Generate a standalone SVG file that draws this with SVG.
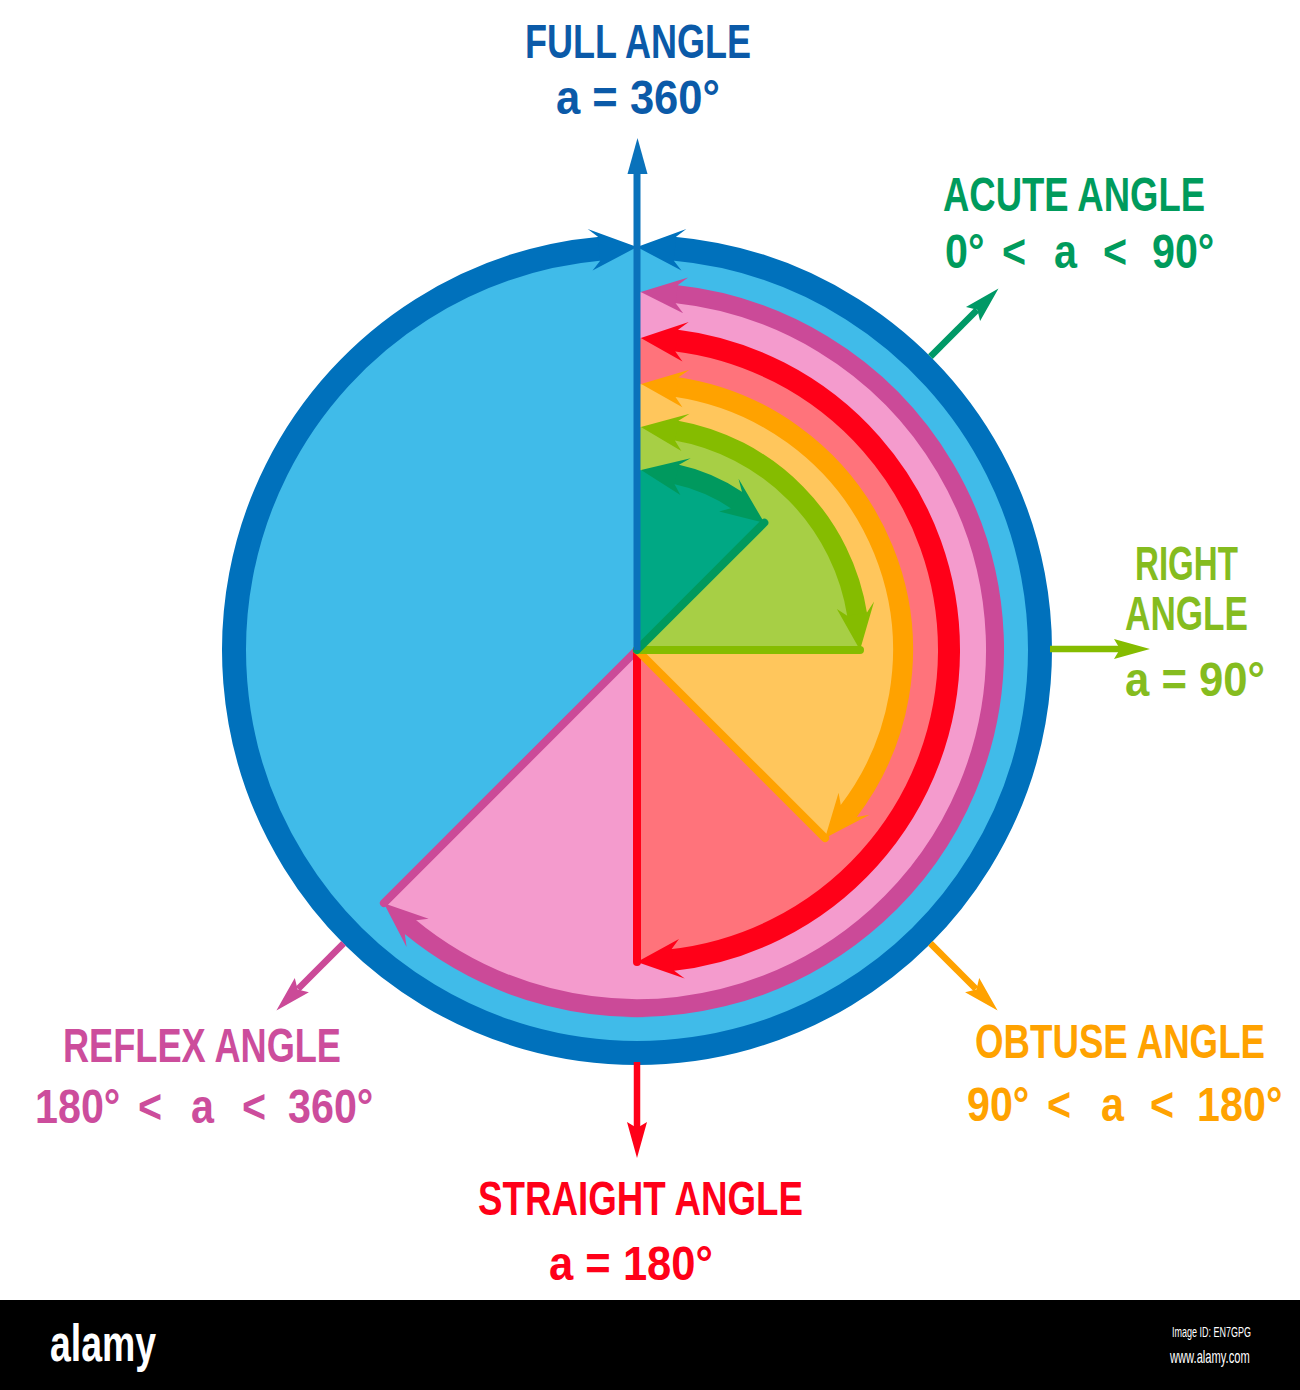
<svg xmlns="http://www.w3.org/2000/svg" xmlns:xlink="http://www.w3.org/1999/xlink" width="1300" height="1390" viewBox="0 0 1300 1390">
<style>
.title{font-family:"Liberation Sans",Arial,sans-serif;font-weight:bold;font-size:48px}
.formula{font-family:"Liberation Sans",Arial,sans-serif;font-weight:bold;font-size:48px}
.band{fill:none;stroke-linecap:butt}
.ray{stroke-width:8;stroke-linecap:round}
.ptr{stroke-width:6.5;stroke-linecap:butt}
</style>
<defs>
<path id="h180" d="M0,-180 L49.23,-192.81 L37.75,-186.22 L33.78,-166.62 L39.83,-155.99 Z"/>
<path id="h223" d="M0,-223 L48.50,-237.09 L37.44,-229.97 L34.23,-210.23 L40.88,-199.86 Z"/>
<path id="h266" d="M0,-266 L47.99,-280.92 L37.23,-273.49 L34.53,-253.67 L41.59,-243.47 Z"/>
<path id="h312" d="M0,-312 L47.71,-328.55 L37.18,-320.84 L34.65,-298.98 L41.96,-288.96 Z"/>
<path id="h358" d="M0,-358 L47.15,-373.03 L36.85,-365.13 L35.04,-347.22 L42.64,-337.31 Z"/>
<path id="h403" d="M0,-403 L49.31,-421.12 L39.09,-413.17 L36.83,-389.28 L44.43,-379.40 Z"/>
<path id="ph" d="M0,0 L-36,-10 L-30,0 L-36,10 Z"/>
</defs>
<rect width="1300" height="1390" fill="#ffffff"/>

<g id="full-angle">
<circle cx="637" cy="650" r="403" fill="#40bbe9"/>
<path class="band" d="M673.23,248.61 A403,403 0 1 1 600.77,248.61" stroke="#0071bc" stroke-width="24"/>
<use xlink:href="#h403" transform="translate(637,650)" fill="#0071bc"/>
<use xlink:href="#h403" transform="translate(637,650) scale(-1,1)" fill="#0071bc"/>
<text class="title" x="525" y="58" fill="#0b5aa8" textLength="226" lengthAdjust="spacingAndGlyphs">FULL ANGLE</text>
<text class="formula" x="556" y="114" fill="#0b5aa8" textLength="164" lengthAdjust="spacingAndGlyphs">a = 360°</text>
</g>

<g id="reflex-angle">
<path d="M637,650 L637,292 A358,358 0 1 1 383.86,903.14 Z" fill="#f49bcd"/>
<path class="band" d="M675.06,294.04 A358,358 0 1 1 409.20,926.16" stroke="#cb4a98" stroke-width="18"/>
<use xlink:href="#h358" transform="translate(637,650) rotate(0.6)" fill="#cb4a98"/>
<use xlink:href="#h358" transform="translate(637,650) rotate(225) scale(-1,1)" fill="#cb4a98"/>
<line class="ray" x1="637" y1="650" x2="383.9" y2="903.1" stroke="#cb4a98"/>
<text class="title" x="63" y="1062" fill="#cc4d9c" textLength="278" lengthAdjust="spacingAndGlyphs">REFLEX ANGLE</text>
<text class="formula" y="1123" fill="#cc4d9c" transform="scale(0.86,1)"><tspan x="40.7">180°</tspan> <tspan x="160.5">&lt;</tspan> <tspan x="222.1">a</tspan> <tspan x="281.4">&lt;</tspan> <tspan x="334.9">360°</tspan></text>
</g>

<g id="straight-angle">
<path d="M637,650 L637,338 A312,312 0 0 1 637,962 Z" fill="#ff737b"/>
<path class="band" d="M675.03,340.34 A312,312 0 0 1 671.26,960.13" stroke="#ff0018" stroke-width="22"/>
<use xlink:href="#h312" transform="translate(637,650) rotate(0.7)" fill="#ff0018"/>
<use xlink:href="#h312" transform="translate(637,650) rotate(180) scale(-1,1)" fill="#ff0018"/>
<line class="ray" x1="637" y1="650" x2="637" y2="962" stroke="#ff0018"/>
<text class="title" x="478" y="1215" fill="#ff0018" textLength="325" lengthAdjust="spacingAndGlyphs">STRAIGHT ANGLE</text>
<text class="formula" x="549" y="1280" fill="#ff0018" textLength="164" lengthAdjust="spacingAndGlyphs">a = 180°</text>
</g>

<g id="obtuse-angle">
<path d="M637,650 L637,384 A266,266 0 0 1 825.09,838.09 Z" fill="#ffc65c"/>
<path class="band" d="M675.62,386.82 A266,266 0 0 1 847.94,812.05" stroke="#ffa200" stroke-width="20"/>
<use xlink:href="#h266" transform="translate(637,650) rotate(0.9)" fill="#ffa200"/>
<use xlink:href="#h266" transform="translate(637,650) rotate(135) scale(-1,1)" fill="#ffa200"/>
<line class="ray" x1="637" y1="650" x2="825.1" y2="838.1" stroke="#ffa200"/>
<text class="title" x="0" y="0" transform="translate(975,1058) scale(0.76,1)" fill="#ffa200" textLength="381.6" lengthAdjust="spacingAndGlyphs">OBTUSE ANGLE</text>
<text class="formula" y="1121" fill="#ffa200" transform="scale(0.86,1)"><tspan x="1124.4">90°</tspan> <tspan x="1217.4">&lt;</tspan> <tspan x="1280.2">a</tspan> <tspan x="1337.2">&lt;</tspan> <tspan x="1391.9">180°</tspan></text>
</g>

<g id="right-angle">
<path d="M637,650 L637,427 A223,223 0 0 1 860,650 Z" fill="#a7cf45"/>
<path class="band" d="M675.27,430.30 A223,223 0 0 1 857.32,615.57" stroke="#85bc00" stroke-width="20"/>
<use xlink:href="#h223" transform="translate(637,650) rotate(1.0)" fill="#85bc00"/>
<use xlink:href="#h223" transform="translate(637,650) rotate(90) scale(-1,1)" fill="#85bc00"/>
<line class="ray" x1="637" y1="650" x2="860" y2="650" stroke="#85bc00"/>
<text class="title" x="1135" y="580" fill="#85bc1f" textLength="103" lengthAdjust="spacingAndGlyphs">RIGHT</text>
<text class="title" x="1125" y="630" fill="#85bc1f" textLength="123" lengthAdjust="spacingAndGlyphs">ANGLE</text>
<text class="formula" x="1125" y="696" fill="#85bc1f" textLength="140" lengthAdjust="spacingAndGlyphs">a = 90°</text>
</g>

<g id="acute-angle">
<path d="M637,650 L637,470 A180,180 0 0 1 764.28,522.72 Z" fill="#00a884"/>
<path class="band" d="M675.0,474.05 A180,180 0 0 1 737.94,500.96" stroke="#00995e" stroke-width="20"/>
<use xlink:href="#h180" transform="translate(637,650) rotate(1.3)" fill="#00995e"/>
<use xlink:href="#h180" transform="translate(637,650) rotate(45) scale(-1,1)" fill="#00995e"/>
<line class="ray" x1="637" y1="650" x2="764.3" y2="522.7" stroke="#00995e"/>
<text class="title" x="943" y="211" fill="#009b5c" textLength="262" lengthAdjust="spacingAndGlyphs">ACUTE ANGLE</text>
<text class="formula" y="268" fill="#009b5c" transform="scale(0.86,1)"><tspan x="1098.8">0°</tspan> <tspan x="1165.1">&lt;</tspan> <tspan x="1225.6">a</tspan> <tspan x="1282.6">&lt;</tspan> <tspan x="1339.5">90°</tspan></text>
</g>

<g id="connectors">
<line x1="637" y1="170" x2="637" y2="650" stroke="#0a72bb" stroke-width="7"/>
<polygon points="637.5,138 627.5,174 647.5,174" fill="#0a72bb"/>
<line class="ptr" x1="930.4" y1="356.6" x2="977" y2="310" stroke="#009966"/>
<use xlink:href="#ph" transform="translate(998.5,288.5) rotate(-45)" fill="#009966"/>
<line class="ptr" x1="1050" y1="649" x2="1122" y2="649" stroke="#85bc00"/>
<use xlink:href="#ph" transform="translate(1150,649) rotate(0)" fill="#85bc00"/>
<line class="ptr" x1="930.4" y1="943.4" x2="976" y2="989" stroke="#ffa200"/>
<use xlink:href="#ph" transform="translate(997.6,1010.6) rotate(45)" fill="#ffa200"/>
<line class="ptr" x1="637" y1="1062" x2="637" y2="1130" stroke="#ff0018"/>
<use xlink:href="#ph" transform="translate(637,1158) rotate(90)" fill="#ff0018"/>
<line class="ptr" x1="343.6" y1="943.4" x2="298" y2="989" stroke="#cb4a98"/>
<use xlink:href="#ph" transform="translate(276.4,1010.6) rotate(135)" fill="#cb4a98"/>
</g>

<g id="footer">
<rect x="0" y="1300" width="1300" height="90" fill="#000000"/>
<text x="0" y="0" transform="translate(50,1361) scale(0.72,1)" fill="#ffffff" font-family="'Liberation Sans',Arial,sans-serif" font-weight="bold" font-size="52">alamy</text>
<text x="0" y="0" transform="translate(1172,1337) scale(0.6,1)" fill="#ffffff" font-family="'Liberation Sans',Arial,sans-serif" font-size="15">Image ID: EN7GPG</text>
<text x="0" y="0" transform="translate(1170,1363) scale(0.62,1)" fill="#ffffff" font-family="'Liberation Sans',Arial,sans-serif" font-size="18">www.alamy.com</text>
</g>
</svg>
